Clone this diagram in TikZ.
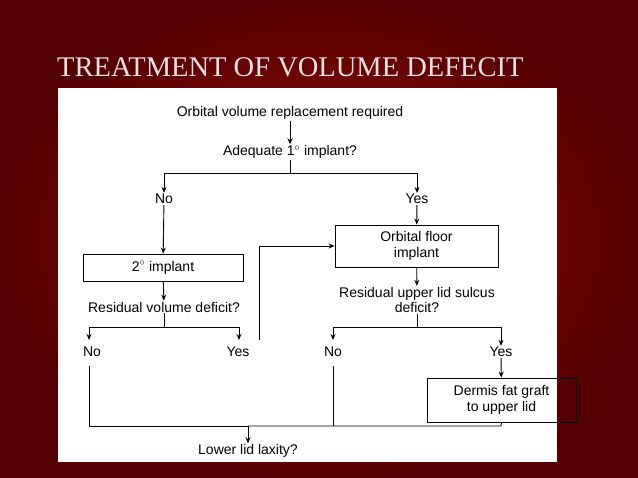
\documentclass[tikz,border=0pt]{standalone}
\usepackage{fontspec}
\setmainfont{Liberation Sans}
\newfontfamily\titlefont{Liberation Serif}
\usetikzlibrary{arrows.meta}
\begin{document}
\begin{tikzpicture}[x=1pt,y=-1pt,
  t/.style={font=\fontsize{14}{15.5}\selectfont, inner sep=1pt, align=center},
  b/.style={draw, line width=0.9pt, inner sep=0pt, font=\fontsize{14}{15.5}\selectfont, align=center},
  ln/.style={line width=0.9pt},
  ar/.style={ln,-{Stealth[length=6pt,width=5pt]}}]
\useasboundingbox (0,0) rectangle (638,478);
\shade[inner color={rgb,255:red,160;green,12;blue,12}, outer color={rgb,255:red,85;green,0;blue,0}] (0,0) rectangle (638,478);
\node[anchor=base west, text={rgb,255:red,235;green,225;blue,225}, font=\titlefont\fontsize{28.5}{30}\selectfont, inner sep=0] (title) at (57,77) {TREATMENT OF VOLUME DEFECIT};
\fill[white] (58,88) rectangle (557,462);
\node[t] (a) at (290,113) {Orbital volume replacement required};
\node[t] (q1) at (290,152) {Adequate 1\textsuperscript{$\circ$} implant?};
\node[t] (no1) at (164,199) {No};
\node[t] (yes1) at (417,199) {Yes};
\node[b, minimum width=160pt, minimum height=27pt] (imp2) at (163,267.5) {2\textsuperscript{$\circ$} implant};
\node[t] (q3) at (417,300) {Residual upper lid sulcus\\deficit?};
\node[t] (q2) at (164,307) {Residual volume deficit?};
\node[t] (no2) at (92,352) {No};
\node[t] (yes2) at (238,352) {Yes};
\node[b, minimum width=163pt, minimum height=42pt] (ofi) at (416.5,246) {Orbital floor\\implant};
\node[t] (no3) at (333,352) {No};
\node[t] (yes3) at (501,352) {Yes};
\node[b, minimum width=149pt, minimum height=44pt] (dfg) at (501.5,400) {Dermis fat graft\\to upper lid};
\node[t] (lll) at (248,451) {Lower lid laxity?};
\coordinate (j1) at (290,173);
\coordinate (j2) at (164,327);
\coordinate (j3) at (417,327);
\coordinate (j4) at (248,426);
\coordinate (y2top) at (259,340);
\draw[ar] (a) -- (q1);
\draw[ln] (q1) -- (j1);
\draw[ar] (j1) -| (no1);
\draw[ar] (j1) -| (yes1);
\draw[ar] (no1) -- (imp2);
\draw[ar] (yes1) -- (ofi);
\draw[ar] (imp2) -- (q2);
\draw[ln] (q2) -- (j2);
\draw[ar] (j2) -| (89,340);
\draw[ar] (j2) -| (239,340);
\draw[ar] (y2top) |- (ofi.west);
\draw[ar] (ofi) -- (q3);
\draw[ln] (q3) -- (j3);
\draw[ar] (j3) -| (333,340);
\draw[ar] (j3) -| (yes3);
\draw[ar] (yes3) -- (dfg);
\draw[ln] (89,366) |- (j4);
\draw[ln] (333,366) -- (333,426);
\draw[ln] (dfg.south) -- (501,426) -- (j4);
\draw[ar] (j4) -- (lll);
\end{tikzpicture}
\end{document}
